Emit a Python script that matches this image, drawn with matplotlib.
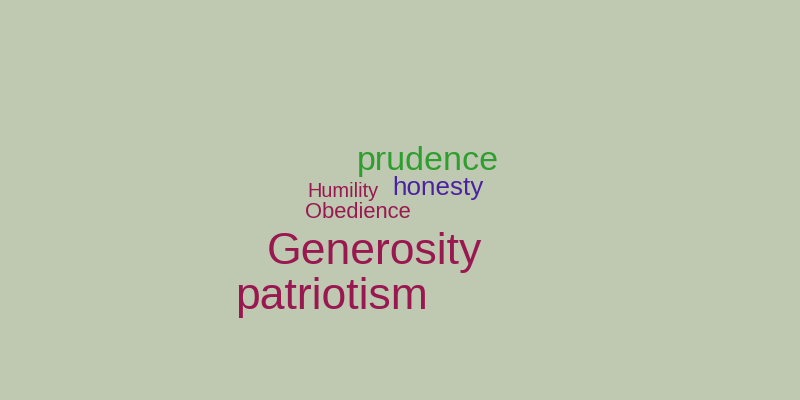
import matplotlib
matplotlib.use("Agg")
import matplotlib.pyplot as plt
from matplotlib.transforms import Affine2D

# Data
words = ["patriotism", "Generosity", "prudence", "honesty", "Obedience", "Humility"]
weights = [44.5, 44.5, 34, 26, 22, 20]  # relative word size (px)
colors = ["#991850", "#991850", "#2e9e2e", "#4a22a0", "#991850", "#991850"]

# Layout (left x, baseline y in pixels from top)
layout = [(235, 309), (267, 264), (357, 170), (392, 195), (305, 218), (307, 197)]

W, H = 800, 400
fig = plt.figure(figsize=(W / 100, H / 100), dpi=100)
fig.patch.set_facecolor("#bfc9b2")
ax = fig.add_axes([0, 0, 1, 1])
ax.set_facecolor("#bfc9b2")
ax.set_xlim(0, W)
ax.set_ylim(H, 0)
ax.axis("off")

for w, s, c, (x, y) in zip(words, weights, colors, layout):
    ax.text(x, y, w, fontsize=s * 0.72, color=c, family="Liberation Sans",
            ha="left", va="baseline")

fig.savefig("out.png", dpi=100, facecolor=fig.get_facecolor())
